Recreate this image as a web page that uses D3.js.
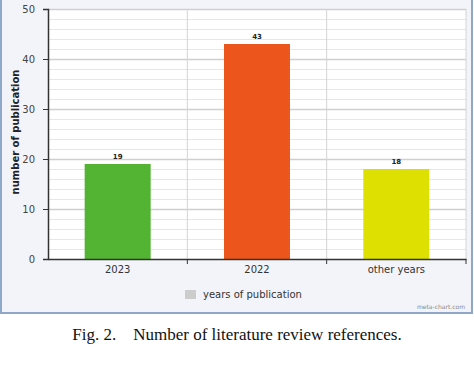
<!DOCTYPE html>
<html>
<head>
<meta charset="utf-8">
<script src="https://cdn.jsdelivr.net/npm/d3@7"></script>
<style>
  body { margin: 0; background: #fff; }
</style>
</head>
<body>
<script>
'use strict';

const width = 474;
const height = 369;

// chart data
const categories = ["2023", "2022", "other years"];
const counts = [19, 43, 18];
const barColors = ["#53b332", "#ec561c", "#dde000"];
const yTicks = [0, 10, 20, 30, 40, 50];
const legendLabel = "years of publication";
const yTitle = "number of publication";
const caption = "Fig. 2.    Number of literature review references.";

const svg = d3.select("body")
    .append("svg")
    .attr("width", width)
    .attr("height", height);

// outer chart frame
svg.append("rect")
    .attr("x", 1)
    .attr("y", -2)
    .attr("width", 471)
    .attr("height", 315)
    .attr("fill", "#f3f4fa")
    .attr("stroke", "#8fa8c8")
    .attr("stroke-width", 2);

const x0 = 48, x1 = 466, y0 = 259, y1 = 9;

let x = d3.scaleBand()
    .domain(categories)
    .range([x0, x1])
    .paddingInner(0)
    .paddingOuter(0);

let y = d3.scaleLinear()
    .domain([0, 50])
    .range([y0, y1]);

// plot background
svg.append("rect")
    .attr("x", x0)
    .attr("y", y1)
    .attr("width", x1 - x0)
    .attr("height", y0 - y1)
    .attr("fill", "#fff");

// grid lines every 2 units
let grid = svg.append("g");
grid.selectAll("line")
    .data(d3.range(2, 51, 2))
    .enter()
    .append("line")
    .attr("x1", x0)
    .attr("x2", x1)
    .attr("y1", d => y(d) + 0.5)
    .attr("y2", d => y(d) + 0.5)
    .attr("stroke", d => d % 10 === 0 ? "#cfcfcf" : "#e6e6e6")
    .attr("stroke-width", d => d % 10 === 0 ? 1.5 : 1);

// vertical category separators
grid.selectAll(".sep")
    .data(categories.slice(1).concat(["end"]))
    .enter()
    .append("line")
    .attr("class", "sep")
    .attr("x1", d => d === "end" ? x1 : x(d))
    .attr("x2", d => d === "end" ? x1 : x(d))
    .attr("y1", y1)
    .attr("y2", y0)
    .attr("stroke", "#d4d4d4");

// bars
let barW = 66;
svg.append("g").selectAll("rect")
    .data(counts)
    .enter()
    .append("rect")
    .attr("x", (d, i) => x(categories[i]) + x.bandwidth() / 2 - barW / 2)
    .attr("y", d => y(d))
    .attr("width", barW)
    .attr("height", d => y0 - y(d))
    .attr("fill", (d, i) => barColors[i]);

// value labels
svg.append("g").selectAll("text")
    .data(counts)
    .enter()
    .append("text")
    .attr("x", (d, i) => x(categories[i]) + x.bandwidth() / 2)
    .attr("y", d => y(d) - 5)
    .attr("text-anchor", "middle")
    .attr("font-family", "DejaVu Sans, sans-serif")
    .attr("font-size", 7)
    .attr("font-weight", "bold")
    .attr("fill", "#222")
    .text(d => d);

// y axis
let yAxis = svg.append("g")
    .attr("transform", "translate(" + x0 + ",0)")
    .call(d3.axisLeft(y).tickValues(yTicks).tickSize(5).tickPadding(8));
yAxis.select(".domain").attr("stroke", "#333").attr("stroke-width", 1.5);
yAxis.selectAll(".tick line").attr("stroke", "#333");
yAxis.selectAll("text")
    .attr("font-family", "DejaVu Sans, sans-serif")
    .attr("font-size", 10)
    .attr("fill", "#444");

// x axis
let xAxis = svg.append("g")
    .attr("transform", "translate(0," + y0 + ")")
    .call(d3.axisBottom(x).tickSize(0).tickPadding(7));
xAxis.select(".domain").attr("stroke", "#333").attr("stroke-width", 1.5);
xAxis.selectAll("text")
    .attr("font-family", "DejaVu Sans, sans-serif")
    .attr("font-size", 10)
    .attr("fill", "#333");

// x ticks at band edges
svg.append("g").selectAll("line")
    .data(categories.slice(1).concat(["end"]))
    .enter()
    .append("line")
    .attr("x1", d => d === "end" ? x1 : x(d))
    .attr("x2", d => d === "end" ? x1 : x(d))
    .attr("y1", y0)
    .attr("y2", y0 + 5)
    .attr("stroke", "#333");

// y title
svg.append("text")
    .attr("transform", "translate(19," + ((y0 + y1) / 2 - 2) + ") rotate(-90)")
    .attr("text-anchor", "middle")
    .attr("font-family", "DejaVu Sans, sans-serif")
    .attr("font-size", 10)
    .attr("font-weight", "bold")
    .attr("fill", "#222")
    .text(yTitle);

// legend
svg.append("rect")
    .attr("x", 185)
    .attr("y", 290)
    .attr("width", 11)
    .attr("height", 9)
    .attr("fill", "#cccccc");
svg.append("text")
    .attr("x", 203)
    .attr("y", 298)
    .attr("font-family", "DejaVu Sans, sans-serif")
    .attr("font-size", 10)
    .attr("fill", "#333")
    .text(legendLabel);

svg.append("text")
    .attr("x", 465)
    .attr("y", 309)
    .attr("text-anchor", "end")
    .attr("font-family", "DejaVu Sans, sans-serif")
    .attr("font-size", 6)
    .attr("fill", "#888")
    .text("meta-chart.com");

// caption
svg.append("text")
    .attr("x", 237)
    .attr("y", 340)
    .attr("text-anchor", "middle")
    .attr("font-family", "Liberation Serif, serif")
    .attr("font-size", 17)
    .attr("fill", "#111")
    .style("white-space", "pre")
    .text(caption);
</script>
</body>
</html>
